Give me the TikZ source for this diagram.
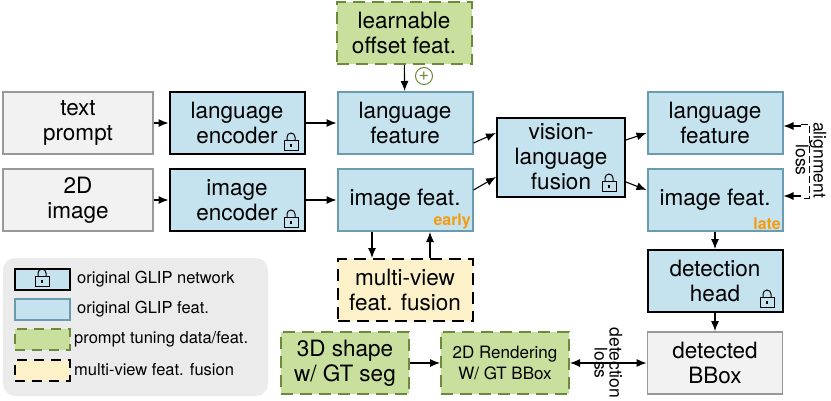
\documentclass[tikz,border=0pt]{standalone}
\usepackage{fontspec}
\setmainfont{TeX Gyre Heros}
\usetikzlibrary{arrows.meta,positioning}
\definecolor{bfill}{HTML}{C5E3EF}
\definecolor{bdraw}{HTML}{6A9BAE}
\definecolor{gfill}{HTML}{C8DF9E}
\definecolor{gdraw}{HTML}{6B8A3A}
\definecolor{yfill}{HTML}{FCF1C9}
\definecolor{lgray}{HTML}{F2F2F2}
\definecolor{mgray}{HTML}{999999}
\definecolor{legbg}{HTML}{EBEBEB}
\definecolor{orng}{HTML}{F39C12}
\tikzset{
 box/.style={minimum width=135pt,minimum height=62pt,align=center,font=\fontsize{22.5}{25}\selectfont,inner sep=1pt},
 grayb/.style={box,fill=lgray,draw=mgray,line width=1.8pt},
 netb/.style={box,fill=bfill,draw=black,line width=2pt},
 featb/.style={box,fill=bfill,draw=bdraw,line width=2pt},
 tuneb/.style={box,fill=gfill,draw=gdraw,line width=2pt,dash pattern=on 12pt off 7pt},
 mvb/.style={box,fill=yfill,draw=black,line width=2pt,dash pattern=on 12pt off 7pt},
 arr/.style={-{Latex[length=10pt,width=8pt]},line width=1.1pt},
 tag/.style={font=\bfseries\fontsize{16}{16}\selectfont,text=orng,anchor=south east,inner sep=2.5pt},
 pics/lock/.style={code={
   \draw[line width=1pt] (-7,-1) rectangle (7,9);
   \draw[line width=1pt] (-4,-1) -- (-4,-4) arc[start angle=180,end angle=0,x radius=4pt,y radius=4pt] -- (4,-1);
   \draw[line width=1.2pt] (0,2.5) -- (0,6);
 }}
}
\begin{document}
\begin{tikzpicture}[x=1pt,y=-1pt]
\useasboundingbox (0,0) rectangle (831,400);
\fill[legbg,rounded corners=12pt] (3,258) rectangle (268,396);
\node[grayb,minimum width=150pt] (tp) at (78,123) {text\\prompt};
\node[grayb,minimum width=150pt] (im) at (78,200) {2D\\image};
\node[netb] (le) at (237,123) {language\\encoder};
\node[netb] (ie) at (237,200) {image\\encoder};
\pic at (291,141) {lock};
\pic at (291,218) {lock};
\node[tuneb] (lo) at (404,33) {learnable\\offset feat.};
\node[featb] (lf) at (405,123) {language\\feature};
\node[featb] (if) at (405,200) {image feat.};
\node[tag] at (if.south east) {early};
\node[netb,minimum width=128pt,minimum height=79pt] (vl) at (561,157) {vision-\\language\\fusion};
\pic at (609,182) {lock};
\node[featb] (lf2) at (715,123) {language\\feature};
\node[featb] (if2) at (715,200) {image feat.};
\node[tag] at (if2.south east) {late};
\node[netb] (dh) at (715,281) {detection\\head};
\pic at (767,298) {lock};
\node[grayb] (db) at (715,363) {detected\\BBox};
\node[mvb] (mv) at (405,290) {multi-view\\feat. fusion};
\node[tuneb,minimum width=128pt] (sh) at (345,363) {3D shape\\w/ GT seg};
\node[tuneb,minimum width=128pt,font=\fontsize{17}{21}\selectfont] (rd) at (505,363) {2D Rendering\\W/ GT BBox};
% arrows
\draw[arr] (tp) -- (le);
\draw[arr] (im) -- (ie);
\draw[arr] (le) -- (lf);
\draw[arr] (ie) -- (if);
\draw[arr] (lo) -- (lf);
\node[circle,draw=gdraw,line width=1pt,minimum size=17pt,inner sep=0pt,text=gdraw,font=\fontsize{18}{18}\selectfont] (plus) at (424,76) {+};
\draw[arr] ([yshift=-20pt]lf.east) -- ([yshift=24pt]vl.west);
\draw[arr] ([yshift=10pt]if.east) -- ([yshift=-20pt]vl.west);
\draw[arr] ([yshift=17pt]vl.east) -- ([yshift=-10pt]lf2.west);
\draw[arr] ([yshift=-25pt]vl.east) -- ([yshift=10pt]if2.west);
\draw[arr] ([xshift=-33pt]if.south) -- ([xshift=-33pt]mv.north);
\draw[arr] ([xshift=25pt]mv.north) -- ([xshift=25pt]if.south);
\draw[arr] (if2) -- (dh);
\draw[arr] (dh) -- (db);
\draw[arr] (sh) -- (rd);
\draw[arr,{Latex[length=10pt,width=8pt]}-{Latex[length=10pt,width=8pt]}] (rd) -- (db) coordinate[midway] (dl);
\node[rotate=-90,align=center,font=\fontsize{17.5}{15}\selectfont,inner sep=1pt] at (dl) {detection\\loss};
% alignment loss
\coordinate (al) at (811,160);
\draw[line width=1pt,dash pattern=on 7pt off 3pt] (801,124) -- (809,124) -- (809,198) -- (801,198);
\draw[arr] (801,126) -- (lf2.east |- 0,126);
\draw[arr] (801,196) -- (if2.east |- 0,196);
\node[rotate=-90,align=center,font=\fontsize{17.5}{15}\selectfont,inner sep=0.5pt] at (al) {alignment\\loss};
% legend
\tikzset{lg/.style={minimum width=55pt,minimum height=21pt,inner sep=0pt}}
\node[netb,lg] (k1) at (42,279) {};
\pic at (42,277) {lock};
\node[featb,lg] (k2) at (42,309) {};
\node[tuneb,lg,dash pattern=on 10pt off 7pt] (k3) at (42,339) {};
\node[mvb,lg,dash pattern=on 10pt off 7pt] (k4) at (42,370) {};
\tikzset{lt/.style={anchor=west,font=\fontsize{16.5}{18}\selectfont,inner sep=0pt}}
\node[lt] (t1) at (77,279) {original GLIP network};
\node[lt] (t2) at (77,309) {original GLIP feat.};
\node[lt] (t3) at (74,339) {prompt tuning data/feat.};
\node[lt] (t4) at (74,370) {multi-view feat. fusion};
\end{tikzpicture}
\end{document}
